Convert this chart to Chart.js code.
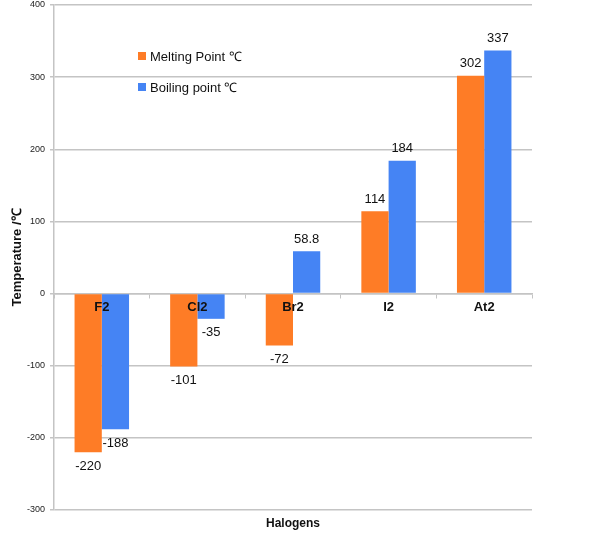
<!DOCTYPE html>
<html>
<head>
    <title>Halogens</title>
    <script src="https://cdn.jsdelivr.net/npm/chart.js"></script>
    <style>
        body {
            margin: 0;
            background: white;
            font-family: 'Liberation Sans', Arial, sans-serif;
        }
        .wrap {
            position: relative;
            width: 591px;
            height: 536px;
        }
        .legend {
            position: absolute;
            left: 138px;
            top: 48px;
            font-size: 13px;
            color: #111;
        }
        .legend-item {
            display: flex;
            align-items: center;
            height: 16px;
            margin-bottom: 15px;
        }
        .legend-color {
            width: 8px;
            height: 8px;
            margin-right: 4px;
        }
    </style>
</head>
<body>
    <div class="wrap">
        <canvas id="barChart" width="591" height="536"></canvas>
        <div class="legend" id="legend-container"></div>
    </div>

    <script>
        const halogens = ['F2', 'Cl2', 'Br2', 'I2', 'At2'];
        const meltingPoint = [-220, -101, -72, 114, 302];
        const boilingPoint = [-188, -35, 58.8, 184, 337];
        const yTicks = [-300, -200, -100, 0, 100, 200, 300, 400];

        const orange = '#fe7c26';
        const blue = '#4584f4';
        const gridGrey = '#c4c4c4';
        const fontFam = '"Liberation Sans", Arial, sans-serif';

        // etiquetas de valor encima / debajo de cada barra
        const valueLabels = {
            id: 'valueLabels',
            afterDatasetsDraw(chart) {
                const c = chart.ctx;
                c.save();
                c.font = '13px ' + fontFam;
                c.fillStyle = '#111';
                c.textAlign = 'center';
                c.textBaseline = 'middle';
                chart.data.datasets.forEach((ds, i) => {
                    chart.getDatasetMeta(i).data.forEach((bar, j) => {
                        const v = ds.data[j];
                        const y = v >= 0 ? bar.y - 12 : bar.y + 14;
                        c.fillText(String(v), bar.x, y);
                    });
                });
                c.restore();
            }
        };

        const ctx = document.getElementById('barChart').getContext('2d');
        const chart = new Chart(ctx, {
            type: 'bar',
            data: {
                labels: halogens,
                datasets: [
                    {
                        label: 'Melting Point ℃',
                        data: meltingPoint,
                        backgroundColor: orange,
                        categoryPercentage: 0.57,
                        barPercentage: 1
                    },
                    {
                        label: 'Boiling point ℃',
                        data: boilingPoint,
                        backgroundColor: blue,
                        categoryPercentage: 0.57,
                        barPercentage: 1
                    }
                ]
            },
            options: {
                responsive: false,
                animation: false,
                layout: { padding: { top: 5, right: 59, left: 0, bottom: 0 } },
                plugins: {
                    legend: { display: false },
                    tooltip: { enabled: false }
                },
                scales: {
                    x: {
                        position: { y: 0 },
                        grid: {
                            display: true,
                            drawOnChartArea: false,
                            drawTicks: true,
                            tickLength: 4,
                            color: gridGrey
                        },
                        border: { display: true, color: gridGrey, width: 1.5 },
                        ticks: {
                            z: 1,
                            color: '#111',
                            padding: 2,
                            font: { size: 13, weight: 'bold', family: fontFam }
                        }
                    },
                    x2: {
                        type: 'category',
                        labels: halogens,
                        position: 'bottom',
                        grid: { display: false },
                        border: { display: false },
                        ticks: { display: false },
                        title: {
                            display: true,
                            text: 'Halogens',
                            color: '#111',
                            padding: { top: 4, bottom: 5 },
                            font: { size: 12, weight: 'bold', family: fontFam }
                        },
                        afterFit(scale) { scale.height = 26; }
                    },
                    y: {
                        min: -300,
                        max: 400,
                        afterBuildTicks(scale) {
                            scale.ticks = yTicks.map(v => ({ value: v }));
                        },
                        grid: {
                            color: gridGrey,
                            lineWidth: 1.5,
                            drawTicks: true,
                            tickLength: 4
                        },
                        border: { display: true, color: gridGrey, width: 1.5 },
                        ticks: {
                            color: '#222',
                            padding: 5,
                            font: { size: 9, family: fontFam }
                        },
                        title: {
                            display: true,
                            text: 'Temperature /℃',
                            color: '#111',
                            padding: { top: 10, bottom: 0 },
                            font: { size: 13, weight: 'bold', family: fontFam }
                        },
                        afterFit(scale) {
                            scale.width = 54;
                            scale.paddingTop = 0;
                            scale.paddingBottom = 0;
                        }
                    }
                }
            },
            plugins: [valueLabels]
        });

        const legendContainer = document.getElementById('legend-container');
        chart.data.datasets.forEach(dataset => {
            const item = document.createElement('div');
            item.className = 'legend-item';
            item.innerHTML = `
                <div class="legend-color" style="background:${dataset.backgroundColor};"></div>
                <span>${dataset.label}</span>
            `;
            legendContainer.appendChild(item);
        });
    </script>
</body>
</html>
